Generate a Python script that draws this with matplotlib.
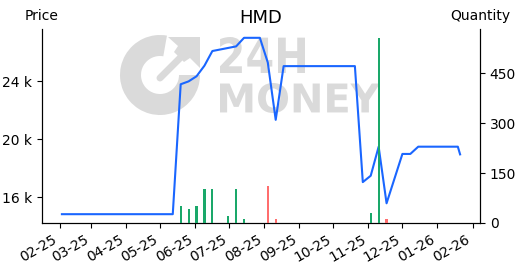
import matplotlib
matplotlib.use("Agg")
import matplotlib.pyplot as plt
import matplotlib.dates as mdates
from matplotlib.ticker import MultipleLocator, FuncFormatter
from matplotlib.textpath import TextPath
from matplotlib.font_manager import FontProperties
from matplotlib.patches import PathPatch, Wedge, Polygon
from matplotlib.transforms import Affine2D
import pandas as pd

# ---- data ----
price_dates = ["2025-02-03", "2025-05-12", "2025-05-19", "2025-05-26", "2025-06-02",
               "2025-06-09", "2025-06-16", "2025-07-07", "2025-07-14", "2025-07-28",
               "2025-08-04", "2025-08-11", "2025-08-18", "2025-10-20", "2025-10-27",
               "2025-11-03", "2025-11-10", "2025-11-17", "2025-12-01", "2025-12-08",
               "2025-12-15", "2026-01-19", "2026-01-21"]
price_values = [14850, 14850, 23800, 24000, 24350,
                25080, 26090, 26410, 27000, 27000,
                25300, 21350, 25050, 25050, 17060,
                17500, 19500, 15600, 19000, 19000,
                19500, 19500, 18970]

vol_dates = ["2025-05-19", "2025-05-26", "2025-06-02", "2025-06-09", "2025-06-16",
             "2025-06-30", "2025-07-07", "2025-07-14", "2025-08-04", "2025-08-11",
             "2025-11-03", "2025-11-10", "2025-11-17"]
vol_values = [51, 42, 51, 101, 101, 21, 101, 11, 111, 12, 29, 555, 11]
vol_up = [True, True, True, True, True, True, True, True, False, False, True, True, False]

title = "HMD"
left_label = "Price"
right_label = "Quantity"
watermark_lines = ["24H", "MONEY"]

# ---- plot ----
W, H = 519, 268
fig = plt.figure(figsize=(W / 100, H / 100), dpi=100)

# watermark layer (pixel coordinates, y measured from top)
wm = fig.add_axes([0, 0, 1, 1], zorder=-1)
wm.set_xlim(0, W)
wm.set_ylim(0, H)
wm.axis("off")
wm_color = "#dadada"
fp = FontProperties(family="DejaVu Sans", weight="bold")


def wm_text(s, x0, ytop, x1, ybot):
    tp = TextPath((0, 0), s, size=1, prop=fp)
    bb = tp.get_extents()
    sx = (x1 - x0) / bb.width
    sy = (ybot - ytop) / bb.height
    tr = Affine2D().translate(-bb.x0, -bb.y0).scale(sx, sy).translate(x0, H - ybot)
    wm.add_patch(PathPatch(tr.transform_path(tp), color=wm_color, lw=0))


wm_text(watermark_lines[0], 220, 37, 305, 73)
wm_text(watermark_lines[1], 220, 83, 380, 113)
# logo ring + arrow
wm.add_patch(Wedge((160, H - 75), 40, 80, 360, width=21, color=wm_color, lw=0))
wm.add_patch(Polygon([(168, H - 37), (200, H - 37), (200, H - 68), (190, H - 58),
                      (184, H - 62), (174, H - 52), (178, H - 46)],
                     closed=True, color=wm_color, lw=0))
wm.plot([160, 184], [H - 78, H - 54], color=wm_color, lw=5, solid_capstyle="round")

ax = fig.add_axes([42 / W, 45 / H, 438 / W, 194 / H], zorder=1)
ax.patch.set_alpha(0)
ax2 = ax.twinx()

pd_dates = pd.to_datetime(price_dates)
ax.plot(pd_dates, price_values, color="#1a66ff", linewidth=1.5, zorder=3)

vd = pd.to_datetime(vol_dates)
colors = ["#1aa86a" if u else "#ff6e6e" for u in vol_up]
ax2.bar(vd, vol_values, width=1.9, color=colors, zorder=3)

ax.yaxis.set_major_locator(MultipleLocator(4000))
ax.yaxis.set_major_formatter(FuncFormatter(lambda v, p: f"{v/1000:.0f} k"))
ax2.yaxis.set_major_locator(MultipleLocator(150))
ax2.set_ylim(bottom=0)

ax.xaxis.set_major_locator(mdates.MonthLocator())
ax.xaxis.set_major_formatter(mdates.DateFormatter("%m-%y"))
for lbl in ax.get_xticklabels():
    lbl.set_rotation(30)
    lbl.set_ha("right")

for a in (ax, ax2):
    a.spines["top"].set_visible(False)
    a.tick_params(labelsize=10)

ax.set_title(title, fontsize=13, pad=4)
ax.text(0.0, 1.045, left_label, transform=ax.transAxes, ha="center", va="baseline", fontsize=10)
ax.text(1.0, 1.045, right_label, transform=ax.transAxes, ha="center", va="baseline", fontsize=10)

fig.savefig("out.png", dpi=100)
